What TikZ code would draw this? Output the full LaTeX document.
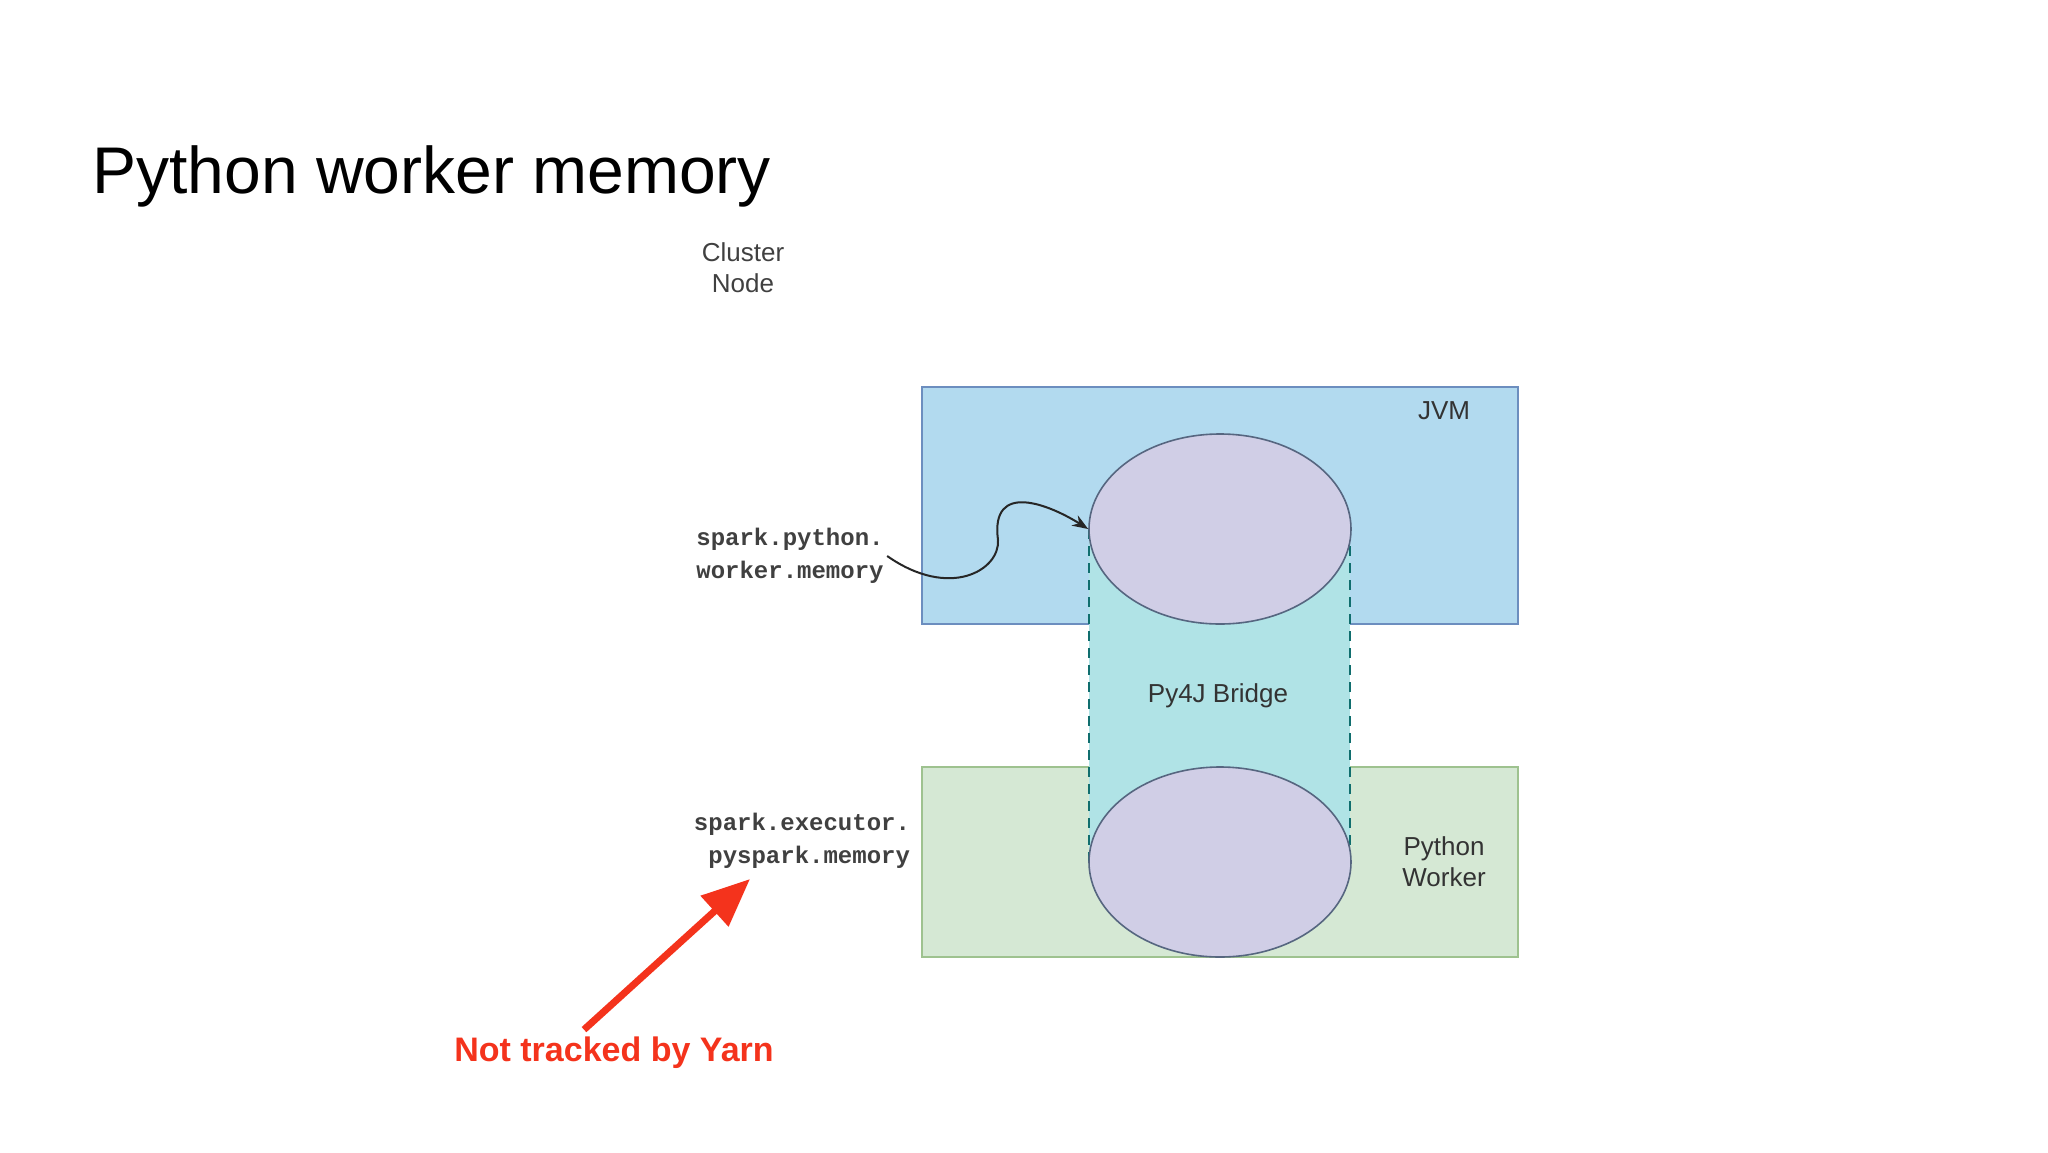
\documentclass[tikz,border=0pt]{standalone}
\usepackage{fontspec}
\setmainfont{Liberation Sans}
\newfontfamily\mono{Liberation Mono}
\usetikzlibrary{arrows.meta,shapes.geometric}
\definecolor{jvmfill}{rgb}{0.698, 0.855, 0.937}
\definecolor{jvmline}{rgb}{0.424, 0.557, 0.749}
\definecolor{pwfill}{rgb}{0.835, 0.910, 0.831}
\definecolor{pwline}{rgb}{0.620, 0.760, 0.560}
\definecolor{ellfill}{rgb}{0.816, 0.808, 0.902}
\definecolor{ellline}{rgb}{0.337, 0.400, 0.502}
\definecolor{bridgefill}{rgb}{0.690, 0.890, 0.902}
\definecolor{bridgeline}{rgb}{0.063, 0.431, 0.431}
\definecolor{alertred}{rgb}{0.957, 0.200, 0.110}
\tikzset{
  box/.style={draw, line width=2pt},
  proc/.style={ellipse, draw=ellline, fill=ellfill, line width=1.6pt,
    minimum width=262pt, minimum height=190pt},
  lbl/.style={font=\fontsize{26}{31}\selectfont, align=center},
  conf/.style={font=\mono\bfseries\fontsize{24}{33}\selectfont, align=left, text=black!75}
}
\begin{document}
\begin{tikzpicture}[x=1pt,y=-1pt]
\useasboundingbox (0,0) rectangle (2048,1152);
% title
\node[anchor=base west, font=\fontsize{66}{78}\selectfont] (title) at (89,193) {Python worker memory};
\node[lbl, text=black!75] (cluster) at (743,268) {Cluster\\Node};
% boxes
\draw[box, draw=jvmline, fill=jvmfill] (922,387) rectangle (1518,624);
\draw[box, draw=pwline, fill=pwfill] (922,767) rectangle (1518,957);
\fill[bridgefill] (1089,529) rectangle (1350,862);
\draw[bridgeline, line width=2.4pt, dash pattern=on 10pt off 7pt]
  (1089,529) -- (1089,862) (1350,529) -- (1350,862);
\node[proc] (jvmproc) at (1220,529) {};
\node[proc] (pyproc) at (1220,862) {};
\node[lbl, text=black!80] (jvm) at (1444,411) {JVM};
\node[lbl, text=black!80] (worker) at (1444,862) {Python\\Worker};
\node[lbl, text=black!80] (bridge) at (1218,696) {Py4J Bridge};
% config labels
\node[conf] (pymem) at (790,556) {spark.python.\\worker.memory};
\node[conf] (exmem) at (802,841) {spark.executor.\\\ pyspark.memory};
\draw[-{Stealth[length=16pt,width=12pt]}, line width=2pt, black!85]
  (pymem.east) .. controls (950,600) and (1000,570) .. (998,540)
  .. controls (990,480) and (1050,505) .. (jvmproc.west);
% alert
\node[font=\bfseries\fontsize{34}{40}\selectfont, text=alertred] (yarn) at (614,1053) {Not tracked by Yarn};
\draw[-{Triangle[length=48pt,width=40pt]}, line width=7pt, alertred]
  (yarn.north) ++(-30,-4) coordinate (tail) (tail) -- (750,879);
\end{tikzpicture}
\end{document}
